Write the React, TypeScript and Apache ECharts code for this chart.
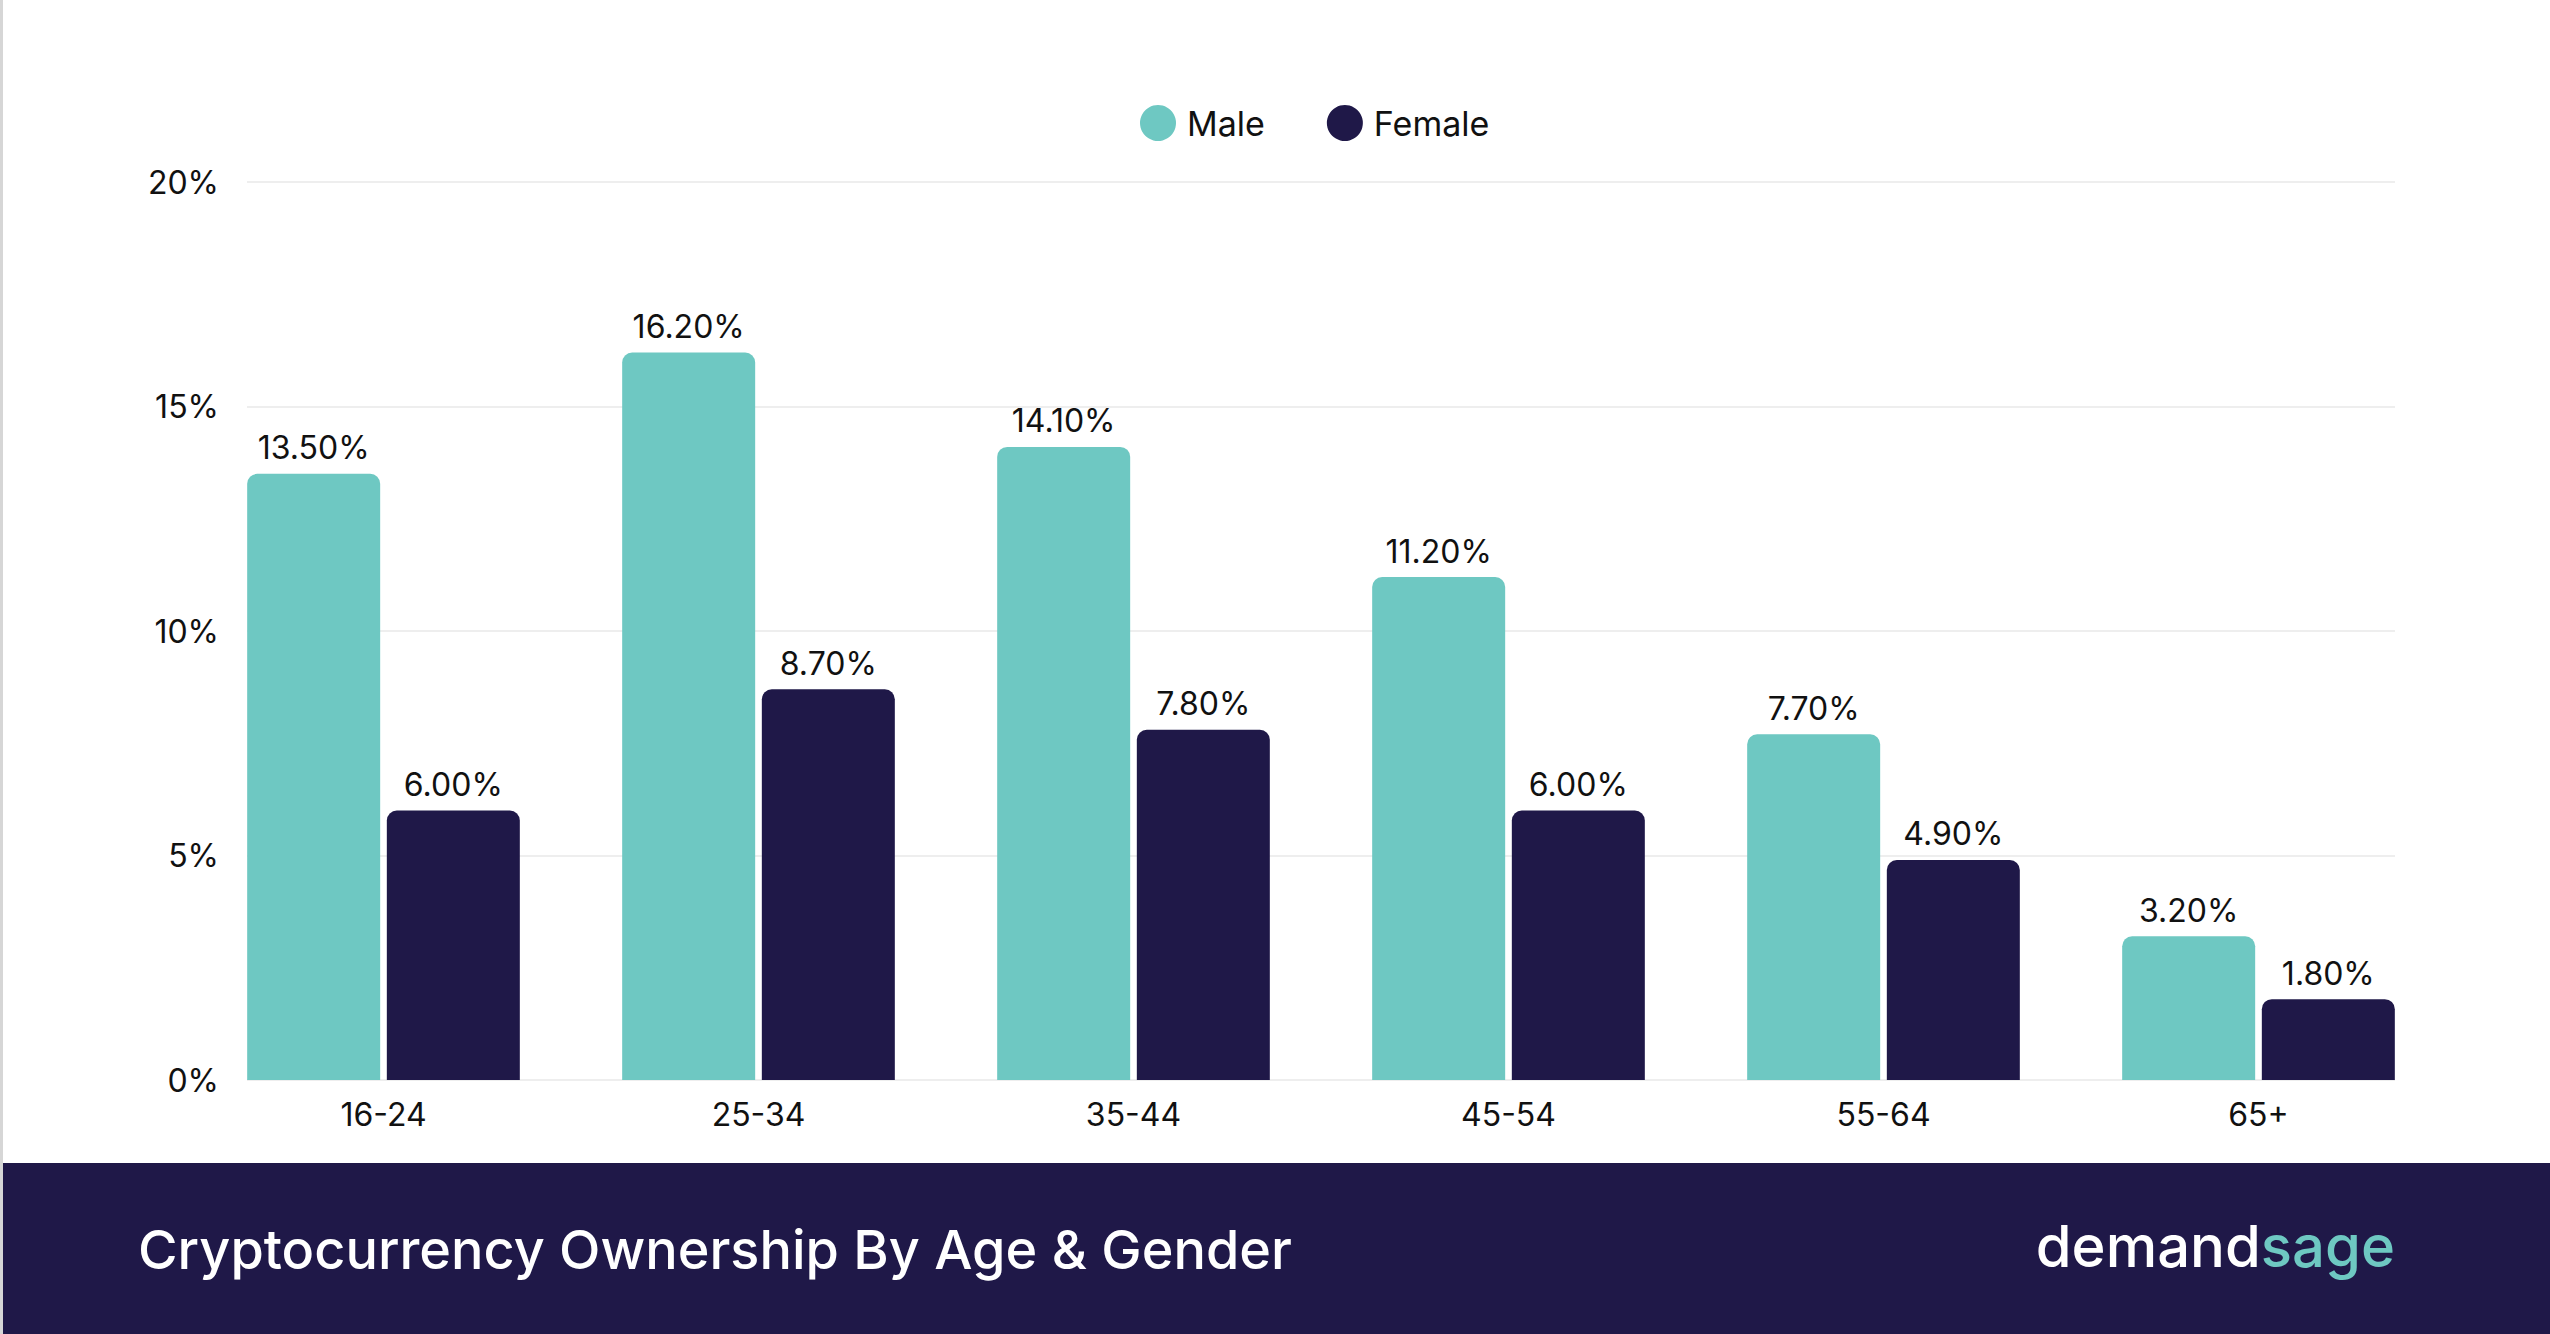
import React, { useEffect, useRef } from 'react';
import * as echarts from 'echarts';

const ageGroups = ['16-24', '25-34', '35-44', '45-54', '55-64', '65+'];
const maleValues = [13.5, 16.2, 14.1, 11.2, 7.7, 3.2];
const femaleValues = [6.0, 8.7, 7.8, 6.0, 4.9, 1.8];
const yTicks = [0, 5, 10, 15, 20];

const MALE = '#6ec8c2';
const FEMALE = '#1f1848';
const FONT = 'Inter, "Noto Sans", sans-serif';

const App: React.FC = () => {
  const chartRef = useRef<HTMLDivElement>(null);

  useEffect(() => {
    if (!chartRef.current) return;
    const chart = echarts.init(chartRef.current, undefined, { renderer: 'svg' });

    const label = {
      show: true,
      position: 'top',
      distance: 10,
      fontFamily: FONT,
      fontSize: 32,
      color: '#111',
      formatter: (p: any) => p.value.toFixed(2) + '%'
    };

    const yMin = yTicks[0];
    const yMax = yTicks[yTicks.length - 1];

    chart.setOption({
      animation: false,
      backgroundColor: '#fff',
      textStyle: { fontFamily: FONT },
      legend: {
        top: 100,
        left: 1132,
        itemWidth: 36,
        itemHeight: 36,
        itemGap: 62,
        icon: 'circle',
        textStyle: { fontSize: 34, color: '#111', padding: [0, 0, 0, 6] },
        data: ['Male', 'Female']
      },
      // grid 0 holds the bars (bands reach past the grid lines); grid 1 only draws the grid lines
      grid: [
        { left: 193, right: 104, top: 182, bottom: 254 },
        { left: 244, right: 155, top: 182, bottom: 254, z: 0 }
      ],
      xAxis: [
        {
          type: 'category',
          data: ageGroups,
          axisTick: { show: false },
          axisLine: { show: false },
          axisLabel: { fontSize: 32, color: '#111', margin: 18 }
        },
        { type: 'value', gridIndex: 1, min: 0, max: 1, show: false }
      ],
      yAxis: [
        {
          type: 'value',
          min: yMin,
          max: yMax,
          interval: 5,
          axisLabel: { fontSize: 32, color: '#111', margin: -23, formatter: '{value}%' },
          splitLine: { show: false }
        },
        {
          type: 'value',
          gridIndex: 1,
          min: yMin,
          max: yMax,
          interval: 5,
          axisLabel: { show: false },
          axisLine: { show: false },
          axisTick: { show: false },
          splitLine: { lineStyle: { color: '#eeeeee', width: 2 } },
          z: 0
        }
      ],
      series: [
        {
          name: 'Male',
          type: 'bar',
          data: maleValues,
          barWidth: 133,
          barGap: '5%',
          itemStyle: { color: MALE, borderRadius: [10, 10, 0, 0] },
          label,
          z: 3
        },
        {
          name: 'Female',
          type: 'bar',
          data: femaleValues,
          barWidth: 133,
          itemStyle: { color: FEMALE, borderRadius: [10, 10, 0, 0] },
          label,
          z: 3
        }
      ],
      graphic: [
        {
          type: 'rect',
          shape: { x: 0, y: 1163, width: 2550, height: 171 },
          style: { fill: FEMALE }
        },
        {
          type: 'text',
          x: 135,
          y: 1249,
          style: {
            text: 'Cryptocurrency Ownership By Age & Gender',
            fill: '#fff',
            font: `500 54px ${FONT}`,
            verticalAlign: 'middle'
          }
        },
        {
          type: 'text',
          x: 2392,
          y: 1246,
          style: {
            text: '{a|demand}{b|sage}',
            align: 'right',
            verticalAlign: 'middle',
            rich: {
              a: { fill: '#fff', fontSize: 58, fontFamily: FONT, fontWeight: 500 },
              b: { fill: MALE, fontSize: 58, fontFamily: FONT, fontWeight: 500 }
            }
          }
        }
      ]
    });

    return () => chart.dispose();
  }, []);

  return (
    <div
      ref={chartRef}
      style={{
        position: 'fixed',
        left: 0,
        top: 0,
        width: 2550,
        height: 1334,
        boxSizing: 'border-box',
        borderLeft: '3px solid #d6d6d6'
      }}
    />
  );
};

export default App;
